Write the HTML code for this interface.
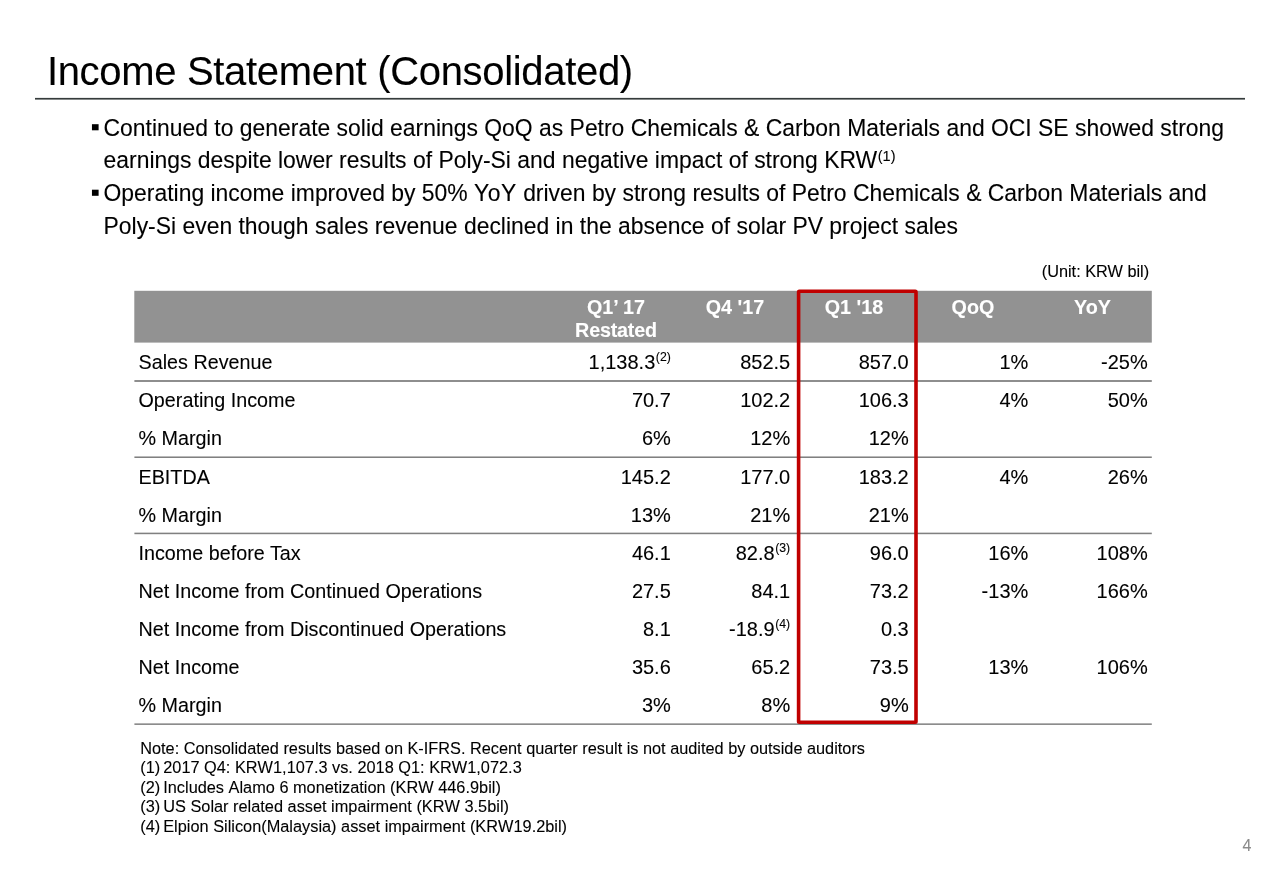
<!DOCTYPE html>
<html lang="en"><head><meta charset="utf-8"><title>Income Statement (Consolidated)</title>
<style>
html,body{margin:0;padding:0;background:#fff;}
body{width:1280px;height:886px;position:relative;overflow:hidden;font-family:"Liberation Sans",Arial,Helvetica,sans-serif;color:#000;-webkit-text-stroke:0.1px currentColor;}
.abs{position:absolute;white-space:nowrap;}
#title{left:46.9px;font-size:40px;line-height:48px;letter-spacing:-0.32px;}
.bl{left:103.55px;font-size:22.92px;line-height:30px;}
sup{vertical-align:baseline;position:relative;line-height:0;}
.bl sup{font-size:14.5px;top:-7px;margin-left:0.5px;}
.num sup{font-size:12.3px;top:-7.6px;margin-left:0.5px;}
.hd{width:120px;text-align:center;color:#fff;font-weight:bold;font-size:19.75px;line-height:22px;}
.lab{left:138.5px;font-size:19.75px;line-height:24px;}
.num{font-size:20px;line-height:24px;text-align:right;}
.nt{font-kerning:none;left:140.25px;font-size:16.34px;line-height:20px;}
.g{display:inline-block;width:3px;}
.yy{letter-spacing:0.5px;}
#unit{font-size:16.3px;line-height:20px;}
#pg{left:1242.6px;font-size:16px;line-height:20px;color:#8a8a8a;}
</style></head><body>

<svg class="abs" style="left:0;top:0" width="1280" height="886" viewBox="0 0 1280 886">
<rect x="35" y="97.9" width="1210" height="1.7" fill="#363c3c"/>
<rect x="134.3" y="290.8" width="1017.5" height="51.8" fill="#929292"/>
<rect x="134.4" y="380" width="1017.4" height="2" fill="#8e8e8e"/>
<rect x="134.4" y="456.45" width="1017.4" height="1.55" fill="#808080"/>
<rect x="134.4" y="532.65" width="1017.4" height="1.55" fill="#808080"/>
<rect x="134.4" y="723.4" width="1017.4" height="1.5" fill="#808080"/>
<rect x="91.95" y="124.2" width="6.65" height="6.1" fill="#000"/>
<rect x="91.95" y="189.7" width="6.65" height="6.1" fill="#000"/>
<rect x="798.6" y="291.2" width="117.4" height="431.1" rx="0.7" ry="0.7" fill="none" stroke="#c00000" stroke-width="3.6"/>
</svg>
<div class="abs " id="title" style="top:46px;line-height:50.280px;transform-origin:0 39px;transform:scaleY(1.012);">Income Statement (Consolidated)</div>
<div class="abs bl" id="b1" style="top:114px;line-height:28.116px;transform-origin:0 22px;transform:scaleY(1.006);">Continued to generate solid earnings QoQ as Petro Chemicals &amp; Carbon Materials and OCI SE showed strong</div>
<div class="abs bl" id="b2" style="top:146px;line-height:28.116px;transform-origin:0 22px;transform:scaleY(1.006);">earnings despite lower results of Poly-Si and negative impact of strong KRW<sup>(1)</sup></div>
<div class="abs bl" id="b3" style="top:179px;line-height:28.116px;transform-origin:0 22px;transform:scaleY(1.006);">Operating income improved by 50% <span class=yy>YoY</span> driven by strong results of Petro Chemicals &amp; Carbon Materials and</div>
<div class="abs bl" id="b4" style="top:212px;line-height:28.116px;transform-origin:0 22px;transform:scaleY(1.006);">Poly-Si even though sales revenue declined in the absence of solar PV project sales</div>
<div class="abs " id="unit" style="top:261px;line-height:20.704px;transform-origin:0 16px;transform:scaleY(1.012);right:130.9px;">(Unit: KRW bil)</div>
<div class="abs hd" style="top:295px;line-height:24.313px;transform-origin:0 19px;transform:scaleY(1.035);left:556.0px;">Q1’ 17</div>
<div class="abs hd" style="top:295px;line-height:24.313px;transform-origin:0 19px;transform:scaleY(1.035);left:675.0px;">Q4 '17</div>
<div class="abs hd" style="top:295px;line-height:24.313px;transform-origin:0 19px;transform:scaleY(1.035);left:794.0px;">Q1 '18</div>
<div class="abs hd" style="top:295px;line-height:24.313px;transform-origin:0 19px;transform:scaleY(1.035);left:913.0px;">QoQ</div>
<div class="abs hd" style="top:295px;line-height:24.313px;transform-origin:0 19px;transform:scaleY(1.035);left:1032.5px;">YoY</div>
<div class="abs hd" style="top:318px;line-height:24.313px;transform-origin:0 19px;transform:scaleY(1.035);left:556.0px;letter-spacing:-0.2px;">Restated</div>
<div class="abs lab" style="top:350px;line-height:24.313px;transform-origin:0 19px;transform:scaleY(1.006);">Sales Revenue</div>
<div class="abs num" style="top:350px;line-height:24.140px;transform-origin:0 19px;transform:scaleY(1.04);right:609.2px;">1,138.3<sup>(2)</sup></div>
<div class="abs num" style="top:350px;line-height:24.140px;transform-origin:0 19px;transform:scaleY(1.04);right:489.8px;">852.5</div>
<div class="abs num" style="top:350px;line-height:24.140px;transform-origin:0 19px;transform:scaleY(1.04);right:371.3px;">857.0</div>
<div class="abs num" style="top:350px;line-height:24.140px;transform-origin:0 19px;transform:scaleY(1.04);right:251.7px;">1%</div>
<div class="abs num" style="top:350px;line-height:24.140px;transform-origin:0 19px;transform:scaleY(1.04);right:132.3px;">-25%</div>
<div class="abs lab" style="top:388px;line-height:24.313px;transform-origin:0 19px;transform:scaleY(1.006);">Operating Income</div>
<div class="abs num" style="top:388px;line-height:24.140px;transform-origin:0 19px;transform:scaleY(1.04);right:609.2px;">70.7</div>
<div class="abs num" style="top:388px;line-height:24.140px;transform-origin:0 19px;transform:scaleY(1.04);right:489.8px;">102.2</div>
<div class="abs num" style="top:388px;line-height:24.140px;transform-origin:0 19px;transform:scaleY(1.04);right:371.3px;">106.3</div>
<div class="abs num" style="top:388px;line-height:24.140px;transform-origin:0 19px;transform:scaleY(1.04);right:251.7px;">4%</div>
<div class="abs num" style="top:388px;line-height:24.140px;transform-origin:0 19px;transform:scaleY(1.04);right:132.3px;">50%</div>
<div class="abs lab" style="top:426px;line-height:24.313px;transform-origin:0 19px;transform:scaleY(1.006);">% Margin</div>
<div class="abs num" style="top:426px;line-height:24.140px;transform-origin:0 19px;transform:scaleY(1.04);right:609.2px;">6%</div>
<div class="abs num" style="top:426px;line-height:24.140px;transform-origin:0 19px;transform:scaleY(1.04);right:489.8px;">12%</div>
<div class="abs num" style="top:426px;line-height:24.140px;transform-origin:0 19px;transform:scaleY(1.04);right:371.3px;">12%</div>
<div class="abs lab" style="top:465px;line-height:24.313px;transform-origin:0 19px;transform:scaleY(1.006);">EBITDA</div>
<div class="abs num" style="top:465px;line-height:24.140px;transform-origin:0 19px;transform:scaleY(1.04);right:609.2px;">145.2</div>
<div class="abs num" style="top:465px;line-height:24.140px;transform-origin:0 19px;transform:scaleY(1.04);right:489.8px;">177.0</div>
<div class="abs num" style="top:465px;line-height:24.140px;transform-origin:0 19px;transform:scaleY(1.04);right:371.3px;">183.2</div>
<div class="abs num" style="top:465px;line-height:24.140px;transform-origin:0 19px;transform:scaleY(1.04);right:251.7px;">4%</div>
<div class="abs num" style="top:465px;line-height:24.140px;transform-origin:0 19px;transform:scaleY(1.04);right:132.3px;">26%</div>
<div class="abs lab" style="top:503px;line-height:24.313px;transform-origin:0 19px;transform:scaleY(1.006);">% Margin</div>
<div class="abs num" style="top:503px;line-height:24.140px;transform-origin:0 19px;transform:scaleY(1.04);right:609.2px;">13%</div>
<div class="abs num" style="top:503px;line-height:24.140px;transform-origin:0 19px;transform:scaleY(1.04);right:489.8px;">21%</div>
<div class="abs num" style="top:503px;line-height:24.140px;transform-origin:0 19px;transform:scaleY(1.04);right:371.3px;">21%</div>
<div class="abs lab" style="top:541px;line-height:24.313px;transform-origin:0 19px;transform:scaleY(1.006);">Income before Tax</div>
<div class="abs num" style="top:541px;line-height:24.140px;transform-origin:0 19px;transform:scaleY(1.04);right:609.2px;">46.1</div>
<div class="abs num" style="top:541px;line-height:24.140px;transform-origin:0 19px;transform:scaleY(1.04);right:489.8px;">82.8<sup>(3)</sup></div>
<div class="abs num" style="top:541px;line-height:24.140px;transform-origin:0 19px;transform:scaleY(1.04);right:371.3px;">96.0</div>
<div class="abs num" style="top:541px;line-height:24.140px;transform-origin:0 19px;transform:scaleY(1.04);right:251.7px;">16%</div>
<div class="abs num" style="top:541px;line-height:24.140px;transform-origin:0 19px;transform:scaleY(1.04);right:132.3px;">108%</div>
<div class="abs lab" style="top:579px;line-height:24.313px;transform-origin:0 19px;transform:scaleY(1.006);">Net Income from Continued Operations</div>
<div class="abs num" style="top:579px;line-height:24.140px;transform-origin:0 19px;transform:scaleY(1.04);right:609.2px;">27.5</div>
<div class="abs num" style="top:579px;line-height:24.140px;transform-origin:0 19px;transform:scaleY(1.04);right:489.8px;">84.1</div>
<div class="abs num" style="top:579px;line-height:24.140px;transform-origin:0 19px;transform:scaleY(1.04);right:371.3px;">73.2</div>
<div class="abs num" style="top:579px;line-height:24.140px;transform-origin:0 19px;transform:scaleY(1.04);right:251.7px;">-13%</div>
<div class="abs num" style="top:579px;line-height:24.140px;transform-origin:0 19px;transform:scaleY(1.04);right:132.3px;">166%</div>
<div class="abs lab" style="top:617px;line-height:24.313px;transform-origin:0 19px;transform:scaleY(1.006);">Net Income from Discontinued Operations</div>
<div class="abs num" style="top:617px;line-height:24.140px;transform-origin:0 19px;transform:scaleY(1.04);right:609.2px;">8.1</div>
<div class="abs num" style="top:617px;line-height:24.140px;transform-origin:0 19px;transform:scaleY(1.04);right:489.8px;">-18.9<sup>(4)</sup></div>
<div class="abs num" style="top:617px;line-height:24.140px;transform-origin:0 19px;transform:scaleY(1.04);right:371.3px;">0.3</div>
<div class="abs lab" style="top:655px;line-height:24.313px;transform-origin:0 19px;transform:scaleY(1.006);">Net Income</div>
<div class="abs num" style="top:655px;line-height:24.140px;transform-origin:0 19px;transform:scaleY(1.04);right:609.2px;">35.6</div>
<div class="abs num" style="top:655px;line-height:24.140px;transform-origin:0 19px;transform:scaleY(1.04);right:489.8px;">65.2</div>
<div class="abs num" style="top:655px;line-height:24.140px;transform-origin:0 19px;transform:scaleY(1.04);right:371.3px;">73.5</div>
<div class="abs num" style="top:655px;line-height:24.140px;transform-origin:0 19px;transform:scaleY(1.04);right:251.7px;">13%</div>
<div class="abs num" style="top:655px;line-height:24.140px;transform-origin:0 19px;transform:scaleY(1.04);right:132.3px;">106%</div>
<div class="abs lab" style="top:693px;line-height:24.313px;transform-origin:0 19px;transform:scaleY(1.006);">% Margin</div>
<div class="abs num" style="top:693px;line-height:24.140px;transform-origin:0 19px;transform:scaleY(1.04);right:609.2px;">3%</div>
<div class="abs num" style="top:693px;line-height:24.140px;transform-origin:0 19px;transform:scaleY(1.04);right:489.8px;">8%</div>
<div class="abs num" style="top:693px;line-height:24.140px;transform-origin:0 19px;transform:scaleY(1.04);right:371.3px;">9%</div>
<div class="abs nt" style="top:738px;line-height:20.676px;transform-origin:0 16px;transform:scaleY(1.006);font-size:16.31px;">Note: Consolidated results based on K-IFRS. Recent quarter result is not audited by outside auditors</div>
<div class="abs nt" style="top:757px;line-height:20.676px;transform-origin:0 16px;transform:scaleY(1.006);">(1)<span class=g></span>2017 Q4: KRW1,107.3 vs. 2018 Q1: KRW1,072.3</div>
<div class="abs nt" style="top:777px;line-height:20.676px;transform-origin:0 16px;transform:scaleY(1.006);">(2)<span class=g></span>Includes Alamo 6 monetization (KRW 446.9bil)</div>
<div class="abs nt" style="top:796px;line-height:20.676px;transform-origin:0 16px;transform:scaleY(1.006);">(3)<span class=g></span>US Solar related asset impairment (KRW 3.5bil)</div>
<div class="abs nt" style="top:816px;line-height:20.676px;transform-origin:0 16px;transform:scaleY(1.006);">(4)<span class=g></span>Elpion Silicon(Malaysia) asset impairment (KRW19.2bil)</div>
<div class="abs " id="pg" style="top:837px;line-height:18.912px;transform-origin:0 15px;transform:scaleY(1.012);">4</div>
</body></html>
